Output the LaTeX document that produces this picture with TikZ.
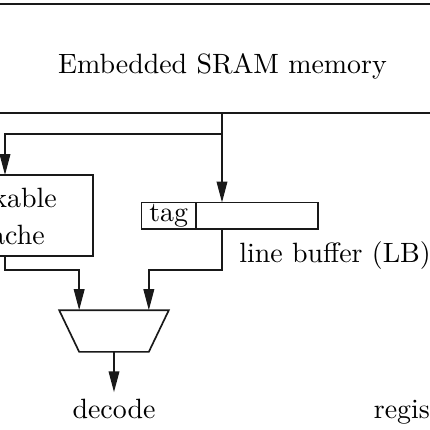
\documentclass[tikz,border=0pt]{standalone}
\usetikzlibrary{arrows.meta}
\begin{document}
\begin{tikzpicture}[x=0.3584pt,y=-0.3584pt,
  line width=0.6pt, draw=black!90,
  box/.style={draw=black!90, inner sep=0pt, outer sep=0pt},
  arr/.style={draw=black!90, -{Triangle[length=7.5pt,width=3.8pt]}},
  lbl/.style={inner sep=0pt, font=\fontsize{10pt}{12pt}\selectfont}]
\useasboundingbox (0,0) rectangle (430,430);
\clip (0,0) rectangle (430,430);
% SRAM block
\node[box, minimum width=186.37pt, minimum height=39.07pt] (sram) at (220,58.5) {};
\node[lbl, anchor=base] (sramtxt) at (222.5,73) {Embedded SRAM memory};
% cache block (partly outside the frame)
\node[box, minimum width=63.08pt, minimum height=29.03pt] (cache) at (5,215.5) {};
\node[lbl, anchor=base east] (cachet1) at (57.5,207) {kable};
\node[lbl, anchor=base east] (cachet2) at (45.5,244) {ache};
% line buffer
\node[box, minimum width=19.53pt, minimum height=9.6pt] (tag) at (168.75,215.9) {tag};
\node[box, minimum width=43.72pt, minimum height=9.6pt] (lbdata) at (257,215.9) {};
\node[lbl, anchor=base west] (lbtxt) at (238.5,262) {line buffer (LB)};
% multiplexer
\node[inner sep=0pt, minimum width=38.71pt, minimum height=14.34pt] (mux) at (114,331) {};
\draw[black!90] (mux.north west) -- (mux.north east) -- ([xshift=-7.17pt]mux.south east)
  -- ([xshift=7.17pt]mux.south west) -- cycle;
\coordinate (muxinL) at ([xshift=7.17pt]mux.north west);
\coordinate (muxinR) at ([xshift=-7.17pt]mux.north east);
% outputs
\node[lbl, anchor=base, inner sep=2pt] (decode) at (114,418) {decode};
\node[lbl, anchor=base west] (regis) at (373,418) {regis};
% connectors
\coordinate (tap) at (222,134);
\draw[black!90] (sram.south -| tap) -- (tap);
\draw[arr] (tap) -- (tap |- lbdata.north);
\draw[arr] (tap) -| (cache.north);
\draw[arr] (cache.south) -- ++(0,14) -| (muxinL);
\draw[arr] (lbdata.south -| tap) -- ++(0,40.7) -| (muxinR);
\draw[arr] (mux.south) -- (decode.north);
\end{tikzpicture}
\end{document}
